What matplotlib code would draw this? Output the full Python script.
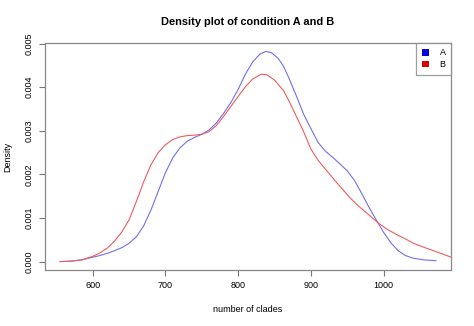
import matplotlib.pyplot as plt
from matplotlib.patches import Patch

plt.rcParams['font.family'] = ['Liberation Sans', 'DejaVu Sans']

# values (number of clades vs density)
a_x = [555, 570, 585, 600, 610, 620, 630, 640, 650, 660, 670, 680, 690, 700,
       710, 720, 730, 740, 750, 760, 770, 780, 790, 800, 810, 820, 830, 838,
       846, 855, 862, 870, 880, 890, 900, 910, 920, 930, 940, 950, 960, 970,
       980, 990, 1000, 1010, 1020, 1030, 1040, 1055, 1072]
a_y = [0.0, 0.00001, 0.00004, 0.0001, 0.00014, 0.00019, 0.00025, 0.00032,
       0.00042, 0.00057, 0.00082, 0.00118, 0.00161, 0.00204, 0.00238, 0.00261,
       0.00276, 0.00285, 0.00292, 0.00302, 0.00318, 0.0034, 0.00365, 0.00395,
       0.0043, 0.00458, 0.00476, 0.00482, 0.00479, 0.00466, 0.00449, 0.0042,
       0.0038, 0.00338, 0.00305, 0.00273, 0.00253, 0.00239, 0.00224, 0.00208,
       0.00186, 0.00156, 0.00124, 0.00095, 0.00067, 0.00043, 0.00025, 0.00014,
       0.00008, 0.00004, 0.00002]

b_x = [555, 570, 585, 600, 610, 620, 630, 640, 650, 660, 670, 680, 690, 700,
       710, 720, 730, 740, 750, 760, 770, 780, 790, 800, 810, 820, 832, 840,
       850, 862, 870, 880, 890, 900, 910, 920, 936, 954, 965, 977, 993, 1005,
       1018, 1030, 1041, 1055, 1072, 1093, 1110]
b_y = [0.0, 0.00001, 0.00004, 0.00012, 0.0002, 0.00031, 0.00047, 0.00068,
       0.00096, 0.00138, 0.00183, 0.00222, 0.0025, 0.00268, 0.0028, 0.00286,
       0.00289, 0.0029, 0.00292, 0.00298, 0.00312, 0.00333, 0.00356, 0.00379,
       0.00401, 0.00419, 0.0043, 0.00428, 0.00416, 0.00393, 0.00368, 0.00333,
       0.00298, 0.00258, 0.00232, 0.00212, 0.0018, 0.00146, 0.00128, 0.00111,
       0.00088, 0.00074, 0.00062, 0.00052, 0.00042, 0.00033, 0.00023, 0.0001,
       0.00005]

x_ticks = [600, 700, 800, 900, 1000]
y_ticks = [0.0, 0.001, 0.002, 0.003, 0.004, 0.005]

fig = plt.figure(figsize=(4.74, 3.26), dpi=100)
ax = fig.add_axes([45 / 474, 56 / 326, 406 / 474, 227 / 326])

ax.plot(a_x, a_y, color='#7070ea', lw=0.8)
ax.plot(b_x, b_y, color='#f05c5c', lw=0.8)

ax.set_xlim(534.3, 1092.7)
ax.set_ylim(-0.000193, 0.005013)
ax.set_xticks(x_ticks)
ax.set_xticklabels([str(t) for t in x_ticks])
ax.set_yticks(y_ticks)
ax.set_yticklabels(['%.3f' % t for t in y_ticks], rotation=90, va='center')
ax.tick_params(labelsize=6.5, length=4, width=0.8, color='#777777', pad=4)
for s in ax.spines.values():
    s.set_color('#888888')
    s.set_linewidth(0.9)

ax.set_xlabel('number of clades', fontsize=6.5, labelpad=11)
ax.set_ylabel('Density', fontsize=6.5, labelpad=9)
ax.set_title('Density plot of condition A and B', fontsize=7.9,
             fontweight='bold', pad=13)

handles = [Patch(facecolor='#0000dd', edgecolor='none', label='A'),
           Patch(facecolor='#dd0000', edgecolor='none', label='B')]
leg = ax.legend(handles=handles, loc='upper right', borderaxespad=0,
                fancybox=False, edgecolor='#888888', fontsize=6.5,
                handlelength=0.8, handleheight=0.8, handletextpad=1.2,
                labelspacing=0.3, borderpad=0.6)
leg.get_frame().set_linewidth(0.9)

fig.savefig('out.png', dpi=100)
